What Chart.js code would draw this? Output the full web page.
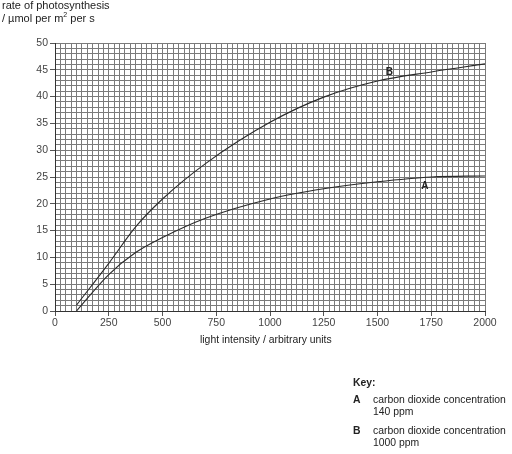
<!DOCTYPE html>
<html>
<head>
<meta charset="utf-8">
<script src="https://cdn.jsdelivr.net/npm/chart.js@4.4.0/dist/chart.umd.min.js"></script>
<style>
  body { margin: 0; background: #fff; font-family: "Liberation Sans", Arial, sans-serif; color: #222; }
  #wrap { position: relative; width: 512px; height: 454px; }
  canvas { position: absolute; left: 0; top: 0; }
  .t { position: absolute; font-size: 10.4px; white-space: nowrap; line-height: 12px; }
  .g { font-size: 11px; }
  .b { font-weight: bold; }
</style>
</head>
<body>
<div id="wrap">
  <canvas id="chartP" width="512" height="454"></canvas>
  <div class="t g" style="left:2px;top:-1px;">rate of photosynthesis</div>
  <div class="t g" style="left:2px;top:12px;">/ µmol per m<sup style="font-size:7px;line-height:0">2</sup> per s</div>
  <div class="t" style="left:200px;top:334px;">light intensity / arbitrary units</div>
  <div class="t b" style="left:353px;top:377px;">Key:</div>
  <div class="t b" style="left:353px;top:394px;">A</div>
  <div class="t" style="left:373px;top:394px;">carbon dioxide concentration<br>140 ppm</div>
  <div class="t b" style="left:353px;top:425px;">B</div>
  <div class="t" style="left:373px;top:425px;">carbon dioxide concentration<br>1000 ppm</div>
</div>
<script>
'use strict'

// datos
let intensidad = [100, 250, 375, 500, 700, 1000, 1250, 1500, 1750, 2000];
let curvaA = [0, 6.8, 10.9, 13.7, 17.3, 20.9, 22.8, 24.1, 25.0, 25.2];
let curvaB = [1.1, 8.9, 15.7, 20.9, 27.5, 35.2, 39.9, 42.9, 44.6, 46.1];

// etiquetas A y B sobre la grafica
let etiquetas = ['A', 'B'];
let etiquetaX = [1720, 1555];
let etiquetaY = [23.2, 44.6];

let xTicks = [0, 250, 500, 750, 1000, 1250, 1500, 1750, 2000];
let yTicks = [0, 5, 10, 15, 20, 25, 30, 35, 40, 45, 50];

function puntos(ys){
    return intensidad.map((x, i) => ({x: x, y: ys[i]}));
}

const etiquetasPlugin = {
    id: 'etiquetas',
    afterDatasetsDraw(chart){
        const c = chart.ctx;
        c.save();
        c.font = 'bold 10px "Liberation Sans", Arial, sans-serif';
        c.fillStyle = '#222';
        c.textAlign = 'center';
        c.textBaseline = 'middle';
        etiquetas.forEach((t, i) => {
            c.fillText(t, chart.scales.x.getPixelForValue(etiquetaX[i]), chart.scales.y.getPixelForValue(etiquetaY[i]));
        });
        c.restore();
    }
};

const ctx = document.getElementById('chartP').getContext('2d');
const myChart = new Chart(ctx, {
    type: 'line',
    data: {
        datasets: [{
            label: 'A',
            data: puntos(curvaA),
            borderColor: '#2a2a2a',
            borderWidth: 1.1,
            pointRadius: 0,
            cubicInterpolationMode: 'monotone',
            fill: false
        },{
            label: 'B',
            data: puntos(curvaB),
            borderColor: '#2a2a2a',
            borderWidth: 1.1,
            pointRadius: 0,
            cubicInterpolationMode: 'monotone',
            fill: false
        }]
    },
    options: {
        responsive: false,
        animation: false,
        layout: {
            padding: { top: 43, right: 27, left: 0, bottom: 0 }
        },
        plugins: {
            legend: { display: false },
            tooltip: { enabled: false }
        },
        scales: {
            x: {
                type: 'linear',
                min: 0,
                max: 2000,
                afterBuildTicks: (s) => {
                    s.ticks = [];
                    for (let v = 0; v <= 2000; v += 25) s.ticks.push({value: v});
                },
                afterFit: (s) => { s.height = 143; },
                border: { color: '#333', width: 1 },
                grid: {
                    color: '#7a7a7a',
                    lineWidth: 1,
                    tickLength: 5,
                    tickColor: (c) => xTicks.includes(c.tick.value) ? '#555' : 'rgba(0,0,0,0)'
                },
                ticks: {
                    autoSkip: false,
                    maxRotation: 0,
                    padding: 1,
                    color: '#444',
                    font: { family: '"Liberation Sans", Arial, sans-serif', size: 10.5 },
                    callback: (v) => xTicks.includes(v) ? String(v) : ''
                }
            },
            y: {
                type: 'linear',
                min: 0,
                max: 50,
                afterBuildTicks: (s) => {
                    s.ticks = [];
                    for (let v = 0; v <= 50; v += 1) s.ticks.push({value: v});
                },
                afterFit: (s) => { s.width = 55; },
                border: { color: '#333', width: 1 },
                grid: {
                    color: '#7a7a7a',
                    lineWidth: 1,
                    tickLength: 5,
                    tickColor: (c) => yTicks.includes(c.tick.value) ? '#555' : 'rgba(0,0,0,0)'
                },
                ticks: {
                    autoSkip: false,
                    padding: 2,
                    color: '#444',
                    font: { family: '"Liberation Sans", Arial, sans-serif', size: 10.5 },
                    callback: (v) => yTicks.includes(v) ? String(v) : ''
                }
            }
        }
    },
    plugins: [etiquetasPlugin]
});
</script>
</body>
</html>
